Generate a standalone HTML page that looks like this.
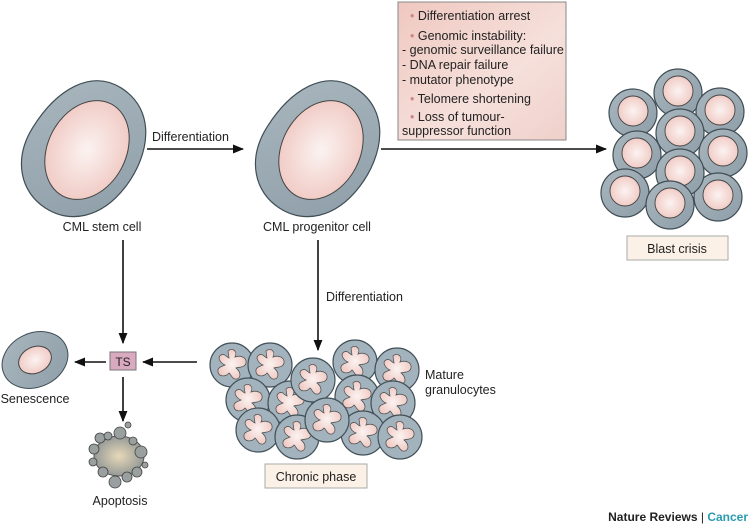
<!DOCTYPE html>
<html><head><meta charset="utf-8"><style>
html,body{margin:0;padding:0;background:#fff;}
svg{display:block;font-family:"Liberation Sans",sans-serif;}
</style></head><body>
<svg width="755" height="528" viewBox="0 0 755 528" xmlns="http://www.w3.org/2000/svg">
<defs>
<radialGradient id="pk" cx="50%" cy="50%" r="55%"><stop offset="0" stop-color="#fbf3f1"/><stop offset="1" stop-color="#f0c8c2"/></radialGradient>
<linearGradient id="gr" x1="0" y1="0" x2="1" y2="1"><stop offset="0" stop-color="#a9b6be"/><stop offset="1" stop-color="#8e9ea8"/></linearGradient>
<radialGradient id="ap" cx="50%" cy="50%" r="55%"><stop offset="0" stop-color="#e8d8b8"/><stop offset="1" stop-color="#8d9494"/></radialGradient>
<linearGradient id="bx" x1="0" y1="0" x2="1" y2="1"><stop offset="0" stop-color="#efc8c0"/><stop offset="0.6" stop-color="#f6e0db"/><stop offset="1" stop-color="#efd0ca"/></linearGradient>
<marker id="ar" viewBox="0 0 10 10" refX="9" refY="5" markerWidth="7" markerHeight="7" orient="auto"><path d="M0,1 L10,5 L0,9 z" fill="#111"/></marker>
<g id="gc"><circle r="22" fill="#a3b3bd" stroke="#44525a" stroke-width="1.2"/>
<path d="M-4,-14 C0,-18 6,-14 3,-8 C8,-10 15,-8 14,-2 C13,3 6,2 4,3 C8,6 10,12 5,14 C0,15 -1,9 -3,8 C-6,12 -13,12 -14,7 C-15,2 -9,1 -7,0 C-12,-2 -15,-8 -11,-10 C-7,-12 -6,-8 -3,-7 Z" fill="url(#pk)" stroke="#555" stroke-width="0.8"/></g>
<g id="bl"><circle r="24" fill="url(#gr)" stroke="#3f4d55" stroke-width="1.2"/><circle r="15" cy="-2" fill="url(#pk)" stroke="#444" stroke-width="0.9"/></g>
<g id="big">
<g transform="rotate(32)"><path d="M0,-72 C42,-72 60,-30 56,10 C52,50 28,70 0,70 C-30,70 -54,46 -54,8 C-54,-36 -36,-72 0,-72 Z" fill="url(#gr)" stroke="#3f4d55" stroke-width="1.2"/></g>
<g transform="translate(4,1) rotate(28)"><ellipse rx="39" ry="52" fill="url(#pk)" stroke="#444" stroke-width="1"/></g>
</g>
</defs>

<use href="#big" x="83" y="149"/>
<text x="102" y="231" font-size="12.5" text-anchor="middle" fill="#222">CML stem cell</text>
<use href="#big" x="317" y="149"/>
<text x="317" y="231" font-size="12.5" text-anchor="middle" fill="#222">CML progenitor cell</text>

<text x="152" y="141" font-size="12.5" fill="#222">Differentiation</text>
<line x1="147" y1="149" x2="243" y2="149" stroke="#111" stroke-width="1.6" marker-end="url(#ar)"/>
<line x1="381" y1="149" x2="606" y2="149" stroke="#111" stroke-width="1.6" marker-end="url(#ar)"/>

<rect x="398" y="2" width="168" height="138" fill="url(#bx)" stroke="#888" stroke-width="1"/>
<g font-size="12.5" fill="#222">
<text x="410" y="20"><tspan fill="#c88">•</tspan> Differentiation arrest</text>
<text x="410" y="40"><tspan fill="#c88">•</tspan> Genomic instability:</text>
<text x="402" y="54">- genomic surveillance failure</text>
<text x="402" y="69">- DNA repair failure</text>
<text x="402" y="84">- mutator phenotype</text>
<text x="410" y="103"><tspan fill="#c88">•</tspan> Telomere shortening</text>
<text x="410" y="121"><tspan fill="#c88">•</tspan> Loss of tumour-</text>
<text x="402" y="135">suppressor function</text>
</g>

<use href="#bl" x="678" y="93"/><use href="#bl" x="633" y="113"/><use href="#bl" x="720" y="112"/>
<use href="#bl" x="680" y="133"/><use href="#bl" x="637" y="155"/><use href="#bl" x="723" y="153"/>
<use href="#bl" x="625" y="193"/><use href="#bl" x="718" y="197"/><use href="#bl" x="680" y="173"/><use href="#bl" x="670" y="205"/>
<rect x="627" y="236" width="101" height="24" fill="#fbf1e6" stroke="#aaa"/>
<text x="677" y="253" font-size="12.5" text-anchor="middle" fill="#222">Blast crisis</text>

<line x1="123" y1="240" x2="123" y2="343" stroke="#111" stroke-width="1.6" marker-end="url(#ar)"/>
<line x1="318" y1="240" x2="318" y2="350" stroke="#111" stroke-width="1.6" marker-end="url(#ar)"/>
<text x="326" y="301" font-size="12.5" fill="#222">Differentiation</text>

<rect x="110" y="352" width="26" height="18" fill="#d9a9c0" stroke="#777"/>
<text x="123" y="366" font-size="12" text-anchor="middle" fill="#222">TS</text>
<line x1="197" y1="362" x2="143" y2="362" stroke="#111" stroke-width="1.6" marker-end="url(#ar)"/>
<line x1="106" y1="362" x2="75" y2="362" stroke="#111" stroke-width="1.6" marker-end="url(#ar)"/>
<line x1="123" y1="377" x2="123" y2="421" stroke="#111" stroke-width="1.6" marker-end="url(#ar)"/>

<g transform="translate(35,360) rotate(-25)"><ellipse rx="34" ry="27" fill="url(#gr)" stroke="#3f4d55"/><ellipse rx="17" ry="13" fill="url(#pk)" stroke="#444"/></g>
<text x="35" y="403" font-size="12.5" text-anchor="middle" fill="#222">Senescence</text>

<ellipse cx="119" cy="456" rx="25" ry="20" fill="url(#ap)" stroke="#555"/>
<g fill="#9aa09f" stroke="#444" stroke-width="0.8">
<circle cx="100" cy="438" r="5"/><circle cx="108" cy="436" r="4"/><circle cx="120" cy="433" r="6"/><circle cx="128" cy="425" r="3"/><circle cx="133" cy="441" r="4"/><circle cx="141" cy="452" r="6"/><circle cx="145" cy="465" r="3"/><circle cx="137" cy="472" r="5"/><circle cx="127" cy="477" r="5"/><circle cx="115" cy="482" r="6"/><circle cx="103" cy="472" r="5"/><circle cx="93" cy="462" r="4"/><circle cx="94" cy="449" r="5"/>
</g>
<text x="120" y="505" font-size="12.5" text-anchor="middle" fill="#222">Apoptosis</text>

<use href="#gc" x="232" y="365"/><use href="#gc" x="270" y="365"/><use href="#gc" x="355" y="362"/><use href="#gc" x="397" y="370"/>
<use href="#gc" x="248" y="400"/><use href="#gc" x="290" y="403"/><use href="#gc" x="357" y="397"/><use href="#gc" x="393" y="403"/>
<use href="#gc" x="313" y="380"/>
<use href="#gc" x="258" y="430"/><use href="#gc" x="297" y="437"/><use href="#gc" x="363" y="433"/><use href="#gc" x="400" y="437"/><use href="#gc" x="327" y="420"/>
<text x="425" y="379" font-size="12.5" fill="#222">Mature</text>
<text x="425" y="394" font-size="12.5" fill="#222">granulocytes</text>
<rect x="265" y="464" width="102" height="24" fill="#fbf1e6" stroke="#aaa"/>
<text x="316" y="481" font-size="12.5" text-anchor="middle" fill="#222">Chronic phase</text>

<text x="748" y="521" font-size="12" font-weight="bold" text-anchor="end" fill="#222">Nature Reviews <tspan font-weight="normal">|</tspan> <tspan fill="#2a9bb0">Cancer</tspan></text>
</svg>
</body></html>
